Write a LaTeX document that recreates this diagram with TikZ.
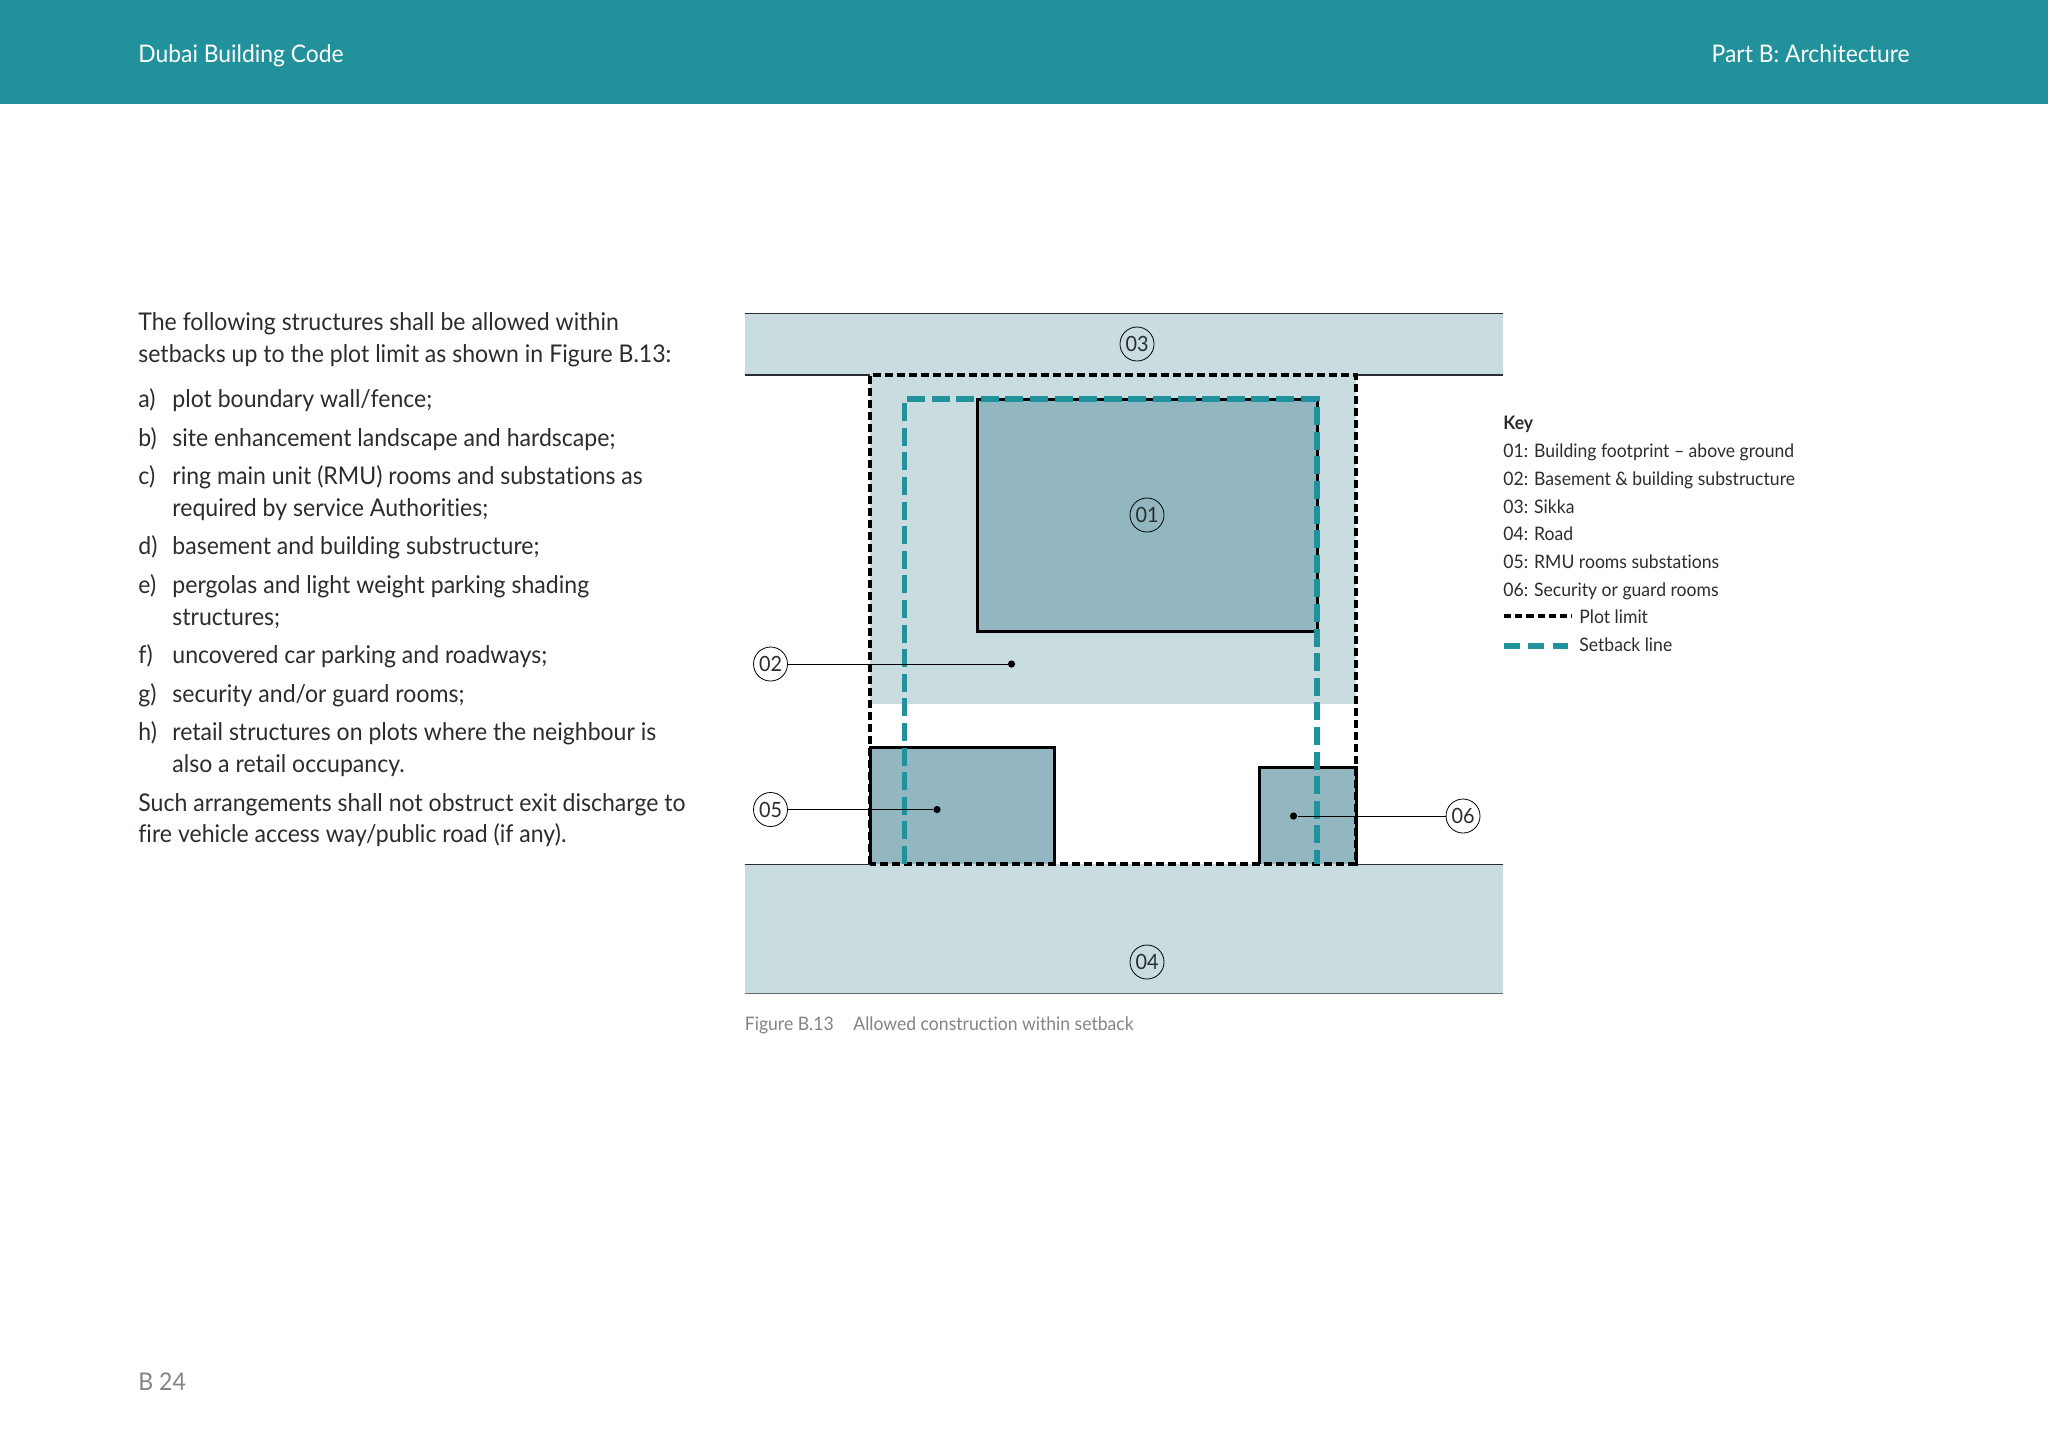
\documentclass[tikz,border=0pt]{standalone}
\usepackage{fontspec}
\setmainfont[FakeStretch=0.945,Ligatures=NoCommon]{Lato}
\definecolor{headteal}{HTML}{21919B}
\definecolor{palezone}{HTML}{C9DCDF}
\definecolor{midzone}{HTML}{92B7C0}
\definecolor{bodyink}{HTML}{2A2D30}
\definecolor{softgrey}{HTML}{808587}
\tikzset{
  body/.style={anchor=base west,inner sep=0pt,text=bodyink,font=\fontsize{12.2}{15}\selectfont},
  keytext/.style={anchor=base west,inner sep=0pt,text=bodyink,font=\fontsize{9.3}{12}\selectfont},
  captext/.style={anchor=base west,inner sep=0pt,text=softgrey,font=\fontsize{9.3}{12}\selectfont},
  headtext/.style={inner sep=0pt,text=white,font=\fontsize{12.1}{15}\selectfont},
  tag/.style={draw=black,line width=0.4pt,circle,minimum size=17pt,inner sep=0pt,text=bodyink,font=\fontsize{10.5}{12}\selectfont},
  tipdot/.style={fill=black,circle,minimum size=3.6pt,inner sep=0pt},
  leader/.style={draw=black,line width=0.4pt},
  plotline/.style={draw=black,line width=1.9pt,dash pattern=on 3.9pt off 2.1pt},
  setbackline/.style={draw=headteal,line width=2.8pt,dash pattern=on 9pt off 3.3pt},
  roofline/.style={draw=black,line width=1.5pt}
}
\begin{document}
\begin{tikzpicture}[x=0.5pt,y=-0.5pt]
\useasboundingbox (0,0) rectangle (2048,1448);
\fill[white] (0,0) rectangle (2048,1448);
% header
\fill[headteal] (0,0) rectangle (2048,104);
\node[headtext,anchor=base west] (codetitle) at (138,62) {Dubai Building Code};
\node[headtext,anchor=base east] (parttitle) at (1910,62) {Part B: Architecture};
% text column
\node[body] (t1) at (138,330) {The following structures shall be allowed within};
\node[body] (t2) at (138,362) {setbacks up to the plot limit as shown in Figure B.13:};
\node[body] (ta) at (138,407) {a)};
\node[body] (la) at (172,407) {plot boundary wall/fence;};
\node[body] (tb) at (138,446) {b)};
\node[body] (lb) at (172,446) {site enhancement landscape and hardscape;};
\node[body] (tc) at (138,484.5) {c)};
\node[body] (lc) at (172,484.5) {ring main unit (RMU) rooms and substations as};
\node[body] (lc2) at (172,516) {required by service Authorities;};
\node[body] (td) at (138,554.5) {d)};
\node[body] (ld) at (172,554.5) {basement and building substructure;};
\node[body] (te) at (138,593) {e)};
\node[body] (le) at (172,593) {pergolas and light weight parking shading};
\node[body] (le2) at (172,625) {structures;};
\node[body] (tf) at (138,663.5) {f)};
\node[body] (lf) at (172,663.5) {uncovered car parking and roadways;};
\node[body] (tg) at (138,702) {g)};
\node[body] (lg) at (172,702) {security and/or guard rooms;};
\node[body] (th) at (138,740.5) {h)};
\node[body] (lh) at (172,740.5) {retail structures on plots where the neighbour is};
\node[body] (lh2) at (172,772) {also a retail occupancy.};
\node[body] (t3) at (138,811) {Such arrangements shall not obstruct exit discharge to};
\node[body] (t4) at (138,842.5) {fire vehicle access way/public road (if any).};
% zones
\fill[palezone] (744.5,313.5) rectangle (1503,375);
\fill[palezone] (744.5,864) rectangle (1503,993.5);
\fill[palezone] (870,375) rectangle (1356,704);
\draw[line width=0.6pt,draw=bodyink] (744.5,313.5) -- (1503,313.5);
\draw[line width=0.6pt,draw=bodyink] (744.5,375) -- (870,375);
\draw[line width=0.6pt,draw=bodyink] (1356,375) -- (1503,375);
\draw[line width=0.5pt,draw=bodyink] (744.5,864) -- (870,864);
\draw[line width=0.5pt,draw=bodyink] (1356,864) -- (1503,864);
\draw[line width=0.9pt,draw=softgrey!80!black] (744.5,993.5) -- (1503,993.5);
% buildings
\filldraw[fill=midzone,roofline] (977,399) rectangle (1317,631);
\fill[midzone] (870,747.5) rectangle (1054,864);
\fill[midzone] (1259,767.5) rectangle (1356,864);
\draw[roofline] (870,864) -- (870,747.5) -- (1054,747.5) -- (1054,864);
\draw[roofline] (1259,864) -- (1259,767.5) -- (1356,767.5) -- (1356,864);
% limits
\draw[plotline] (870,864) -- (870,375) -- (1356,375) -- (1356,864) -- cycle;
\draw[setbackline] (904.5,864) -- (904.5,399) -- (1317,399) -- (1317,864);
% tags
\node[tag] (tag01) at (1147,515) {01};
\node[tag] (tag02) at (770.5,664) {02};
\node[tag] (tag03) at (1137,344) {03};
\node[tag] (tag04) at (1147,962) {04};
\node[tag] (tag05) at (770.5,809.5) {05};
\node[tag] (tag06) at (1463,816) {06};
\node[tipdot] (dot02) at (1011.5,664) {};
\node[tipdot] (dot05) at (937,809.5) {};
\node[tipdot] (dot06) at (1293.5,816) {};
\draw[leader] (tag02) -- (dot02);
\draw[leader] (tag05) -- (dot05);
\draw[leader] (tag06) -- (dot06);
% key
\node[keytext,font=\fontsize{9.3}{12}\selectfont\bfseries] (keyhead) at (1503,429) {Key};
\node[keytext] (key01) at (1503,457) {01: Building footprint – above ground};
\node[keytext] (key02) at (1503,485) {02: Basement \& building substructure};
\node[keytext] (key03) at (1503,513) {03: Sikka};
\node[keytext] (key04) at (1503,540) {04: Road};
\node[keytext] (key05) at (1503,568) {05: RMU rooms substations};
\node[keytext] (key06) at (1503,596) {06: Security or guard rooms};
\node[keytext] (key07) at (1579,623) {Plot limit};
\node[keytext] (key08) at (1579,651) {Setback line};
\coordinate (plotkeya) at (1504,615.5);
\coordinate (plotkeyb) at (1572,615.5);
\coordinate (setkeya) at (1504,646);
\coordinate (setkeyb) at (1572,646);
\draw[draw=black,line width=2pt,dash pattern=on 3.6pt off 2pt] (plotkeya) -- (plotkeyb);
\draw[draw=headteal,line width=2.6pt,dash pattern=on 7.8pt off 4.4pt] (setkeya) -- (setkeyb);
% caption and page
\node[captext] (figno) at (744.5,1030) {Figure B.13};
\node[captext] (figname) at (853,1030) {Allowed construction within setback};
\node[anchor=base west,inner sep=0pt,text=softgrey,font=\fontsize{12.2}{15}\selectfont] (pageno) at (138,1390) {B 24};
\end{tikzpicture}
\end{document}
